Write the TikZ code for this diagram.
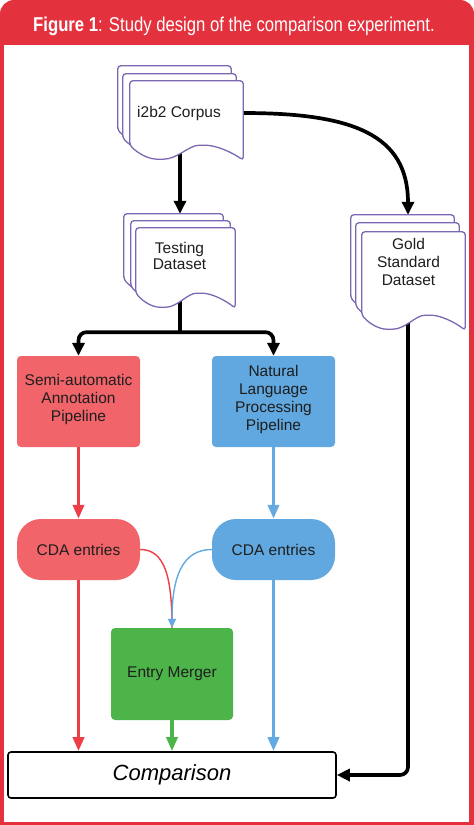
\documentclass[tikz,border=0pt]{standalone}
\usepackage{fontspec}
\setmainfont{Liberation Sans}
\newfontfamily\headfont[FakeStretch=0.835]{Liberation Sans}
\usetikzlibrary{arrows.meta,calc}
\definecolor{framered}{RGB}{227,50,62}
\definecolor{redbox}{RGB}{240,100,106}
\definecolor{redline}{RGB}{235,62,70}
\definecolor{bluebox}{RGB}{96,168,223}
\definecolor{blueline}{RGB}{98,170,225}
\definecolor{greenbox}{RGB}{76,180,72}
\definecolor{greenline}{RGB}{76,180,72}
\definecolor{docpurple}{RGB}{124,104,178}
\definecolor{txt}{RGB}{30,30,30}
\pgfdeclarelayer{frame}
\pgfdeclarelayer{edges}
\pgfdeclarelayer{docs}
\pgfsetlayers{frame,edges,docs,main}
\newcommand\boxfont{\fontsize{15.5}{18}\selectfont}
\newcommand\dlines[2]{\begin{tabular}[t]{@{}c@{\hspace{#1pt}}}#2\end{tabular}}
% one page of a document stack, the node's box shifted by (#2,#3)
\newcommand\docpage[3]{%
  \filldraw[docline]
    ($(#1.south west)+(#2,#3-15)$) -- ($(#1.north west)+(#2,#3)$)
    -- ($(#1.north east)+(#2,#3)$) -- ($(#1.south east)+(#2,#3)$)
    .. controls ($(#1.south west)!0.9!(#1.south east)+(#2,#3-8)$)
       and ($(#1.south west)!0.76!(#1.south east)+(#2,#3-15)$)
    .. ($(#1.south west)!0.64!(#1.south east)+(#2,#3-15)$)
    .. controls ($(#1.south west)!0.52!(#1.south east)+(#2,#3-15)$)
       and ($(#1.south west)!0.42!(#1.south east)+(#2,#3-1)$)
    .. ($(#1.south west)!0.27!(#1.south east)+(#2,#3-1)$)
    .. controls ($(#1.south west)!0.17!(#1.south east)+(#2,#3-1)$)
       and ($(#1.south west)!0.08!(#1.south east)+(#2,#3-6)$)
    .. cycle;}
\newcommand\docstack[5]{%
  \docpage{#1}{#4}{#5}\docpage{#1}{#2}{#3}\docpage{#1}{0}{0}}
\begin{document}
\begin{tikzpicture}[x=1pt,y=-1pt,
  docline/.style={draw=docpurple, fill=white, line width=1.3pt, rounded corners=3pt},
  docnode/.style={inner sep=0pt, font=\boxfont, text=txt},
  box/.style={rounded corners=4pt, inner sep=0pt, font=\boxfont, text=txt,
    minimum width=123pt},
  blk/.style={line width=3.7pt, draw=black, -{Triangle[length=13pt,width=12pt]}},
  redarrow/.style={line width=3.5pt, draw=redline, -{Triangle[length=14pt,width=11pt]}},
  bluearrow/.style={line width=3.5pt, draw=blueline, -{Triangle[length=14pt,width=11pt]}},
  greenarrow/.style={line width=3.5pt, draw=greenline, -{Triangle[length=14pt,width=11pt]}},
  thinred/.style={line width=1.4pt, draw=redline},
  thinblue/.style={line width=1.4pt, draw=blueline, -{Triangle[length=9pt,width=8pt]}}
]
\useasboundingbox (0,0) rectangle (474,825);
\begin{pgfonlayer}{frame}
  \fill[white] (0,0) rectangle (474,825);
  \fill[framered] (0,825) [rounded corners=14pt] -- (0,0) -- (474,0) [sharp corners] -- (474,825) -- cycle;
  \fill[white] (4,45) rectangle (469,822);
\end{pgfonlayer}

\node[anchor=base west, text=white, inner sep=0pt] (title) at (33,31)
  {\headfont\fontsize{20}{24}\selectfont\textbf{Figure 1}: Study design of the comparison experiment.};

% document nodes (front page boxes)
\node[docnode, minimum width=113pt, text height=36pt, text depth=43pt] (corpus) at (186.5,120.5)
  {\dlines{15}{i2b2 Corpus}};
\node[docnode, minimum width=99pt, text height=25pt, text depth=55pt] (testing) at (185.5,268)
  {\fontsize{15.5}{16}\selectfont\dlines{12}{Testing\\Dataset}};
\node[docnode, minimum width=103pt, text height=17pt, text depth=81pt] (gold) at (413.5,281)
  {\dlines{10}{Gold\\Standard\\Dataset}};

\begin{pgfonlayer}{docs}
  \docstack{corpus}{-7}{-7}{-12}{-15}
  \docstack{testing}{-5}{-7}{-12}{-14}
  \docstack{gold}{-6}{-9}{-11}{-17}
\end{pgfonlayer}

% process boxes
\node[box, fill=redbox, text height=29pt, text depth=62pt] (semi) at (78.5,401.5)
  {\dlines{0}{Semi-automatic\\Annotation\\Pipeline}};
\node[box, fill=bluebox, text height=20pt, text depth=71pt] (nlp) at (273.5,401.5)
  {\dlines{0}{Natural\\Language\\Processing\\Pipeline}};
\node[box, fill=redbox, rounded corners=24pt, minimum height=61pt] (cdared) at (78.5,549.5) {CDA entries};
\node[box, fill=bluebox, rounded corners=24pt, minimum height=61pt] (cdablue) at (273.5,549.5) {CDA entries};
\node[box, fill=greenbox, minimum width=122pt, minimum height=92pt] (merger) at (172,674) {Entry Merger};
\node[draw=black, line width=1.6pt, fill=white, rounded corners=3pt, inner sep=0pt,
  minimum width=328pt, minimum height=46pt, font=\fontsize{22}{26}\selectfont\itshape]
  (comparison) at (172,775) {Comparison};

\begin{pgfonlayer}{edges}
  \coordinate (split) at ([xshift=-5.5pt,yshift=-24pt]testing.south);
  \draw[blk] ([xshift=-6.5pt]corpus.center) -- ([xshift=-5.5pt,yshift=14pt]testing.north);
  \draw[blk] ([yshift=7.5pt]corpus.east) .. controls +(110,0) and +(0,-80) .. ([xshift=-5.5pt,yshift=17pt]gold.north);
  \draw[line width=3.7pt] ([xshift=-5.5pt]testing.center) -- (split);
  \draw[blk, rounded corners=8pt] (split) -| (semi.north);
  \draw[blk, rounded corners=8pt] (split) -| (nlp.north);
  \draw[blk, rounded corners=8pt] ([xshift=-5.5pt]gold.center) |- (comparison.east);
  \draw[redarrow] (semi) -- (cdared);
  \draw[bluearrow] (nlp) -- (cdablue);
  \draw[redarrow] (cdared) -- (cdared |- comparison.north);
  \draw[bluearrow] (cdablue) -- (cdablue |- comparison.north);
  \draw[greenarrow] (merger) -- (merger |- comparison.north);
  \draw[thinred] (cdared.east) .. controls +(25,0) and +(0,-50) .. (merger.north);
  \draw[thinblue] (cdablue.west) .. controls +(-30,0) and +(0,-50) .. (merger.north);
\end{pgfonlayer}
\end{tikzpicture}
\end{document}
